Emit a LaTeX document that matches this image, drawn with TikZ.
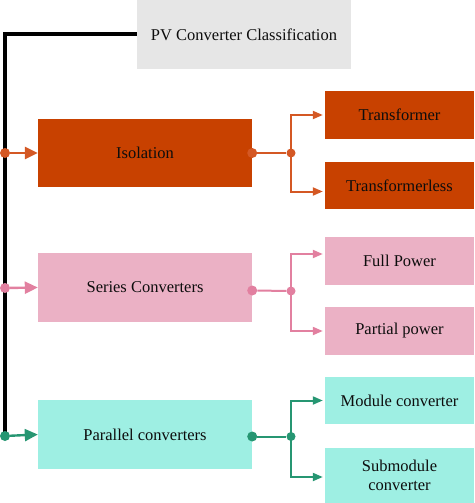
\documentclass[tikz,border=0pt]{standalone}
\usepackage{tikz}
\usepackage{fontspec}
\setmainfont{Liberation Serif}
\usetikzlibrary{arrows.meta}
\usetikzlibrary{positioning}
\definecolor{topgray}{RGB}{230,230,230}
\definecolor{isofill}{RGB}{200,65,0}
\definecolor{isoline}{RGB}{212,88,36}
\definecolor{serfill}{RGB}{235,177,197}
\definecolor{serline}{RGB}{226,128,160}
\definecolor{parfill}{RGB}{158,239,227}
\definecolor{parline}{RGB}{38,150,114}

\begin{document}
\begin{tikzpicture}[x=1pt,y=-1pt,
		txt/.style={font=\fontsize{16.5}{19}\selectfont,text=black!95},
		group/.style={rectangle,txt,inner sep=2pt,minimum width=214pt,minimum height=69pt},
		leaf/.style={rectangle,txt,inner sep=2pt,minimum width=149pt,minimum height=48pt,align=center},
		dot/.style={circle,inner sep=0pt,minimum size=10pt},
		jdot/.style={circle,inner sep=0pt,minimum size=9pt},
		bigtip/.style={-{Triangle[length=13pt,width=12pt]},line width=2.4pt},
		tip/.style={-{Triangle[length=10pt,width=8pt]},line width=2pt,shorten >=2pt}]
		\useasboundingbox (0,0) rectangle (474,503);
		
		% top
		\node[group,fill=topgray] (title) at (244,34.5) {PV Converter Classification};
		
		% groups
		\node[group,fill=isofill,minimum height=68pt] (iso) at (145,153) {Isolation};
		\node[group,fill=serfill] (ser) at (145,287.5) {Series Converters};
		\node[group,fill=parfill] (par) at (145,434.5) {Parallel converters};
		
		% leaves
		\node[leaf,fill=isofill] (trafo)   at (399.5,115)   {Transformer};
		\node[leaf,fill=isofill,minimum height=47pt] (notrafo) at (399.5,185.5) {Transformerless};
		\node[leaf,fill=serfill] (full)    at (399.5,261)   {Full Power};
		\node[leaf,fill=serfill] (partial) at (399.5,331)   {Partial power};
		\node[leaf,fill=parfill,minimum height=47pt] (module)  at (399.5,400.5) {Module converter};
		\node[leaf,fill=parfill,minimum height=55pt] (submod)  at (399.5,475.5) {Submodule\\converter};
		
		% trunk
		\coordinate (corner) at (5,34.5);
		\coordinate (foot) at (5,436);
		\draw[line width=4pt,black] (title.west) -- (corner) -- (foot);
		
		% left dots
		\node[dot,fill=isoline] (isoin) at (5,153) {};
		\node[dot,fill=serline] (serin) at (5,288) {};
		\node[dot,fill=parline] (parin) at (5,436) {};
		\draw[bigtip,isoline] (isoin) -- (iso.west);
		\draw[bigtip,serline] (serin) -- (ser.west);
		\draw[bigtip,parline] (parin) -- (par.west);
		
		% right side
		\node[dot,fill=isoline] (isoout) at (iso.east) {};
		\node[jdot,fill=isoline] (isoj) at (291,153) {};
		\draw[line width=2pt,isoline] (isoout) -- (isoj);
		\draw[tip,isoline] (isoj.center) |- (trafo.west);
		\draw[tip,isoline] (isoj.center) |- ([yshift=-6pt]notrafo.west);
		
		\node[dot,fill=serline] (serout) at ([yshift=-3pt]ser.east) {};
		\node[jdot,fill=serline] (serj) at (291,291) {};
		\draw[line width=2pt,serline] (serout) -- (serj);
		\draw[tip,serline] (serj.center) |- ([yshift=7pt]full.west);
		\draw[tip,serline] (serj.center) |- (partial.west);
		
		\node[dot,fill=parline] (parout) at ([yshift=-2pt]par.east) {};
		\node[jdot,fill=parline] (parj) at (291,436.5) {};
		\draw[line width=2pt,parline] (parout) -- (parj);
		\draw[tip,parline] (parj.center) |- (module.west);
		\draw[tip,parline] (parj.center) |- ([yshift=-1.5pt]submod.west);
\end{tikzpicture}
\end{document}
